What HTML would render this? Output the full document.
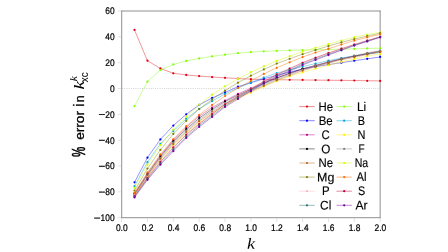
<!DOCTYPE html>
<html><head><meta charset="utf-8"><title>% error in kxc</title>
<style>html,body{margin:0;padding:0;background:#fff;}body{width:448px;height:252px;overflow:hidden;}svg{display:block;}</style>
</head><body>
<svg width="448" height="252" viewBox="0 0 448 252">
<rect width="448" height="252" fill="#fff"/>
<line x1="122.2" y1="88.51" x2="379.7" y2="88.51" stroke="#b0b0b0" stroke-width="0.6" stroke-dasharray="0.9 1.3"/>
<path d="M121.7 10.6V218.1M380.15 10.6V218.1M121.25 11H380.6M121.25 217.7H380.6" fill="none" stroke="#858585" stroke-width="0.9"/>
<g fill="#e2000f" stroke="none"><polyline points="134.53,29.99 147.46,60.73 160.38,68.49 173.31,73.27 186.24,74.95 199.17,76.11 212.10,77.01 225.02,77.79 237.95,78.56 250.88,79.21 263.81,79.60 276.74,79.73 289.66,79.85 302.59,79.98 315.52,80.11 328.45,80.24 341.38,80.37 354.30,80.50 367.23,80.76 380.16,80.89" fill="none" stroke="#e2000f" stroke-width="0.42"/>
<circle cx="134.53" cy="29.99" r="1.12"/><circle cx="147.46" cy="60.73" r="1.12"/><circle cx="160.38" cy="68.49" r="1.12"/><circle cx="173.31" cy="73.27" r="1.12"/><circle cx="186.24" cy="74.95" r="1.12"/><circle cx="199.17" cy="76.11" r="1.12"/><circle cx="212.10" cy="77.01" r="1.12"/><circle cx="225.02" cy="77.79" r="1.12"/><circle cx="237.95" cy="78.56" r="1.12"/><circle cx="250.88" cy="79.21" r="1.12"/><circle cx="263.81" cy="79.60" r="1.12"/><circle cx="276.74" cy="79.73" r="1.12"/><circle cx="289.66" cy="79.85" r="1.12"/><circle cx="302.59" cy="79.98" r="1.12"/><circle cx="315.52" cy="80.11" r="1.12"/><circle cx="328.45" cy="80.24" r="1.12"/><circle cx="341.38" cy="80.37" r="1.12"/><circle cx="354.30" cy="80.50" r="1.12"/><circle cx="367.23" cy="80.76" r="1.12"/><circle cx="380.16" cy="80.89" r="1.12"/>
</g>
<g fill="#7fff00" stroke="none"><polyline points="134.53,106.08 147.46,81.53 160.38,70.04 173.31,64.48 186.24,60.99 199.17,58.41 212.10,56.34 225.02,54.66 237.95,53.24 250.88,52.08 263.81,51.30 276.74,50.79 289.66,50.40 302.59,50.01 315.52,49.75 328.45,49.49 341.38,49.11 354.30,48.85 367.23,48.46 380.16,48.20" fill="none" stroke="#7fff00" stroke-width="0.42"/>
<circle cx="134.53" cy="106.08" r="1.12"/><circle cx="147.46" cy="81.53" r="1.12"/><circle cx="160.38" cy="70.04" r="1.12"/><circle cx="173.31" cy="64.48" r="1.12"/><circle cx="186.24" cy="60.99" r="1.12"/><circle cx="199.17" cy="58.41" r="1.12"/><circle cx="212.10" cy="56.34" r="1.12"/><circle cx="225.02" cy="54.66" r="1.12"/><circle cx="237.95" cy="53.24" r="1.12"/><circle cx="250.88" cy="52.08" r="1.12"/><circle cx="263.81" cy="51.30" r="1.12"/><circle cx="276.74" cy="50.79" r="1.12"/><circle cx="289.66" cy="50.40" r="1.12"/><circle cx="302.59" cy="50.01" r="1.12"/><circle cx="315.52" cy="49.75" r="1.12"/><circle cx="328.45" cy="49.49" r="1.12"/><circle cx="341.38" cy="49.11" r="1.12"/><circle cx="354.30" cy="48.85" r="1.12"/><circle cx="367.23" cy="48.46" r="1.12"/><circle cx="380.16" cy="48.20" r="1.12"/>
</g>
<g fill="#0000ff" stroke="none"><polyline points="134.53,182.30 147.46,157.63 160.38,139.41 173.31,125.59 186.24,114.35 199.17,104.92 212.10,97.94 225.02,92.39 237.95,86.70 250.88,82.70 263.81,78.82 276.74,75.33 289.66,72.10 302.59,69.13 315.52,66.68 328.45,64.61 341.38,62.67 354.30,60.73 367.23,58.80 380.16,56.99" fill="none" stroke="#0000ff" stroke-width="0.42"/>
<circle cx="134.53" cy="182.30" r="1.12"/><circle cx="147.46" cy="157.63" r="1.12"/><circle cx="160.38" cy="139.41" r="1.12"/><circle cx="173.31" cy="125.59" r="1.12"/><circle cx="186.24" cy="114.35" r="1.12"/><circle cx="199.17" cy="104.92" r="1.12"/><circle cx="212.10" cy="97.94" r="1.12"/><circle cx="225.02" cy="92.39" r="1.12"/><circle cx="237.95" cy="86.70" r="1.12"/><circle cx="250.88" cy="82.70" r="1.12"/><circle cx="263.81" cy="78.82" r="1.12"/><circle cx="276.74" cy="75.33" r="1.12"/><circle cx="289.66" cy="72.10" r="1.12"/><circle cx="302.59" cy="69.13" r="1.12"/><circle cx="315.52" cy="66.68" r="1.12"/><circle cx="328.45" cy="64.61" r="1.12"/><circle cx="341.38" cy="62.67" r="1.12"/><circle cx="354.30" cy="60.73" r="1.12"/><circle cx="367.23" cy="58.80" r="1.12"/><circle cx="380.16" cy="56.99" r="1.12"/>
</g>
<g fill="#00a5d8" stroke="none"><polyline points="134.53,186.18 147.46,162.15 160.38,143.80 173.31,131.01 186.24,118.74 199.17,108.92 212.10,101.17 225.02,93.94 237.95,87.99 250.88,82.57 263.81,77.53 276.74,73.14 289.66,69.78 302.59,66.55 315.52,63.58 328.45,60.73 341.38,58.02 354.30,55.95 367.23,54.15 380.16,52.60" fill="none" stroke="#00a5d8" stroke-width="0.42"/>
<circle cx="134.53" cy="186.18" r="1.12"/><circle cx="147.46" cy="162.15" r="1.12"/><circle cx="160.38" cy="143.80" r="1.12"/><circle cx="173.31" cy="131.01" r="1.12"/><circle cx="186.24" cy="118.74" r="1.12"/><circle cx="199.17" cy="108.92" r="1.12"/><circle cx="212.10" cy="101.17" r="1.12"/><circle cx="225.02" cy="93.94" r="1.12"/><circle cx="237.95" cy="87.99" r="1.12"/><circle cx="250.88" cy="82.57" r="1.12"/><circle cx="263.81" cy="77.53" r="1.12"/><circle cx="276.74" cy="73.14" r="1.12"/><circle cx="289.66" cy="69.78" r="1.12"/><circle cx="302.59" cy="66.55" r="1.12"/><circle cx="315.52" cy="63.58" r="1.12"/><circle cx="328.45" cy="60.73" r="1.12"/><circle cx="341.38" cy="58.02" r="1.12"/><circle cx="354.30" cy="55.95" r="1.12"/><circle cx="367.23" cy="54.15" r="1.12"/><circle cx="380.16" cy="52.60" r="1.12"/>
</g>
<g fill="#c0008a" stroke="none"><polyline points="134.53,193.41 147.46,173.52 160.38,155.43 173.31,140.06 186.24,127.27 199.17,116.29 212.10,107.50 225.02,100.52 237.95,93.94 250.88,88.12 263.81,82.70 276.74,77.79 289.66,73.27 302.59,69.13 315.52,65.38 328.45,61.90 341.38,58.80 354.30,56.21 367.23,53.89 380.16,51.69" fill="none" stroke="#c0008a" stroke-width="0.42"/>
<circle cx="134.53" cy="193.41" r="1.12"/><circle cx="147.46" cy="173.52" r="1.12"/><circle cx="160.38" cy="155.43" r="1.12"/><circle cx="173.31" cy="140.06" r="1.12"/><circle cx="186.24" cy="127.27" r="1.12"/><circle cx="199.17" cy="116.29" r="1.12"/><circle cx="212.10" cy="107.50" r="1.12"/><circle cx="225.02" cy="100.52" r="1.12"/><circle cx="237.95" cy="93.94" r="1.12"/><circle cx="250.88" cy="88.12" r="1.12"/><circle cx="263.81" cy="82.70" r="1.12"/><circle cx="276.74" cy="77.79" r="1.12"/><circle cx="289.66" cy="73.27" r="1.12"/><circle cx="302.59" cy="69.13" r="1.12"/><circle cx="315.52" cy="65.38" r="1.12"/><circle cx="328.45" cy="61.90" r="1.12"/><circle cx="341.38" cy="58.80" r="1.12"/><circle cx="354.30" cy="56.21" r="1.12"/><circle cx="367.23" cy="53.89" r="1.12"/><circle cx="380.16" cy="51.69" r="1.12"/>
</g>
<g fill="#ffee00" stroke="none"><polyline points="134.53,195.22 147.46,176.88 160.38,159.82 173.31,145.10 186.24,133.34 199.17,122.49 212.10,113.44 225.02,105.56 237.95,98.85 250.88,92.64 263.81,86.57 276.74,81.02 289.66,76.24 302.59,72.36 315.52,68.74 328.45,65.13 341.38,61.90 354.30,59.05 367.23,56.21 380.16,53.89" fill="none" stroke="#ffee00" stroke-width="0.42"/>
<circle cx="134.53" cy="195.22" r="1.12"/><circle cx="147.46" cy="176.88" r="1.12"/><circle cx="160.38" cy="159.82" r="1.12"/><circle cx="173.31" cy="145.10" r="1.12"/><circle cx="186.24" cy="133.34" r="1.12"/><circle cx="199.17" cy="122.49" r="1.12"/><circle cx="212.10" cy="113.44" r="1.12"/><circle cx="225.02" cy="105.56" r="1.12"/><circle cx="237.95" cy="98.85" r="1.12"/><circle cx="250.88" cy="92.64" r="1.12"/><circle cx="263.81" cy="86.57" r="1.12"/><circle cx="276.74" cy="81.02" r="1.12"/><circle cx="289.66" cy="76.24" r="1.12"/><circle cx="302.59" cy="72.36" r="1.12"/><circle cx="315.52" cy="68.74" r="1.12"/><circle cx="328.45" cy="65.13" r="1.12"/><circle cx="341.38" cy="61.90" r="1.12"/><circle cx="354.30" cy="59.05" r="1.12"/><circle cx="367.23" cy="56.21" r="1.12"/><circle cx="380.16" cy="53.89" r="1.12"/>
</g>
<g fill="#000000" stroke="none"><polyline points="134.53,193.93 147.46,174.55 160.38,156.59 173.31,141.22 186.24,129.20 199.17,118.22 212.10,109.18 225.02,101.56 237.95,95.10 250.88,89.29 263.81,83.60 276.74,78.17 289.66,73.27 302.59,68.74 315.52,65.90 328.45,62.41 341.38,59.05 354.30,56.21 367.23,53.50 380.16,51.17" fill="none" stroke="#000000" stroke-width="0.42"/>
<circle cx="134.53" cy="193.93" r="1.12"/><circle cx="147.46" cy="174.55" r="1.12"/><circle cx="160.38" cy="156.59" r="1.12"/><circle cx="173.31" cy="141.22" r="1.12"/><circle cx="186.24" cy="129.20" r="1.12"/><circle cx="199.17" cy="118.22" r="1.12"/><circle cx="212.10" cy="109.18" r="1.12"/><circle cx="225.02" cy="101.56" r="1.12"/><circle cx="237.95" cy="95.10" r="1.12"/><circle cx="250.88" cy="89.29" r="1.12"/><circle cx="263.81" cy="83.60" r="1.12"/><circle cx="276.74" cy="78.17" r="1.12"/><circle cx="289.66" cy="73.27" r="1.12"/><circle cx="302.59" cy="68.74" r="1.12"/><circle cx="315.52" cy="65.90" r="1.12"/><circle cx="328.45" cy="62.41" r="1.12"/><circle cx="341.38" cy="59.05" r="1.12"/><circle cx="354.30" cy="56.21" r="1.12"/><circle cx="367.23" cy="53.50" r="1.12"/><circle cx="380.16" cy="51.17" r="1.12"/>
</g>
<g fill="#808080" stroke="none"><polyline points="134.53,194.45 147.46,175.45 160.38,157.76 173.31,142.64 186.24,130.63 199.17,119.77 212.10,110.73 225.02,103.11 237.95,96.52 250.88,90.58 263.81,84.76 276.74,79.21 289.66,74.30 302.59,69.65 315.52,65.38 328.45,61.90 341.38,58.54 354.30,55.70 367.23,52.98 380.16,50.66" fill="none" stroke="#808080" stroke-width="0.42"/>
<circle cx="134.53" cy="194.45" r="1.12"/><circle cx="147.46" cy="175.45" r="1.12"/><circle cx="160.38" cy="157.76" r="1.12"/><circle cx="173.31" cy="142.64" r="1.12"/><circle cx="186.24" cy="130.63" r="1.12"/><circle cx="199.17" cy="119.77" r="1.12"/><circle cx="212.10" cy="110.73" r="1.12"/><circle cx="225.02" cy="103.11" r="1.12"/><circle cx="237.95" cy="96.52" r="1.12"/><circle cx="250.88" cy="90.58" r="1.12"/><circle cx="263.81" cy="84.76" r="1.12"/><circle cx="276.74" cy="79.21" r="1.12"/><circle cx="289.66" cy="74.30" r="1.12"/><circle cx="302.59" cy="69.65" r="1.12"/><circle cx="315.52" cy="65.38" r="1.12"/><circle cx="328.45" cy="61.90" r="1.12"/><circle cx="341.38" cy="58.54" r="1.12"/><circle cx="354.30" cy="55.70" r="1.12"/><circle cx="367.23" cy="52.98" r="1.12"/><circle cx="380.16" cy="50.66" r="1.12"/>
</g>
<g fill="#b8651a" stroke="none"><polyline points="134.53,194.96 147.46,176.36 160.38,158.92 173.31,144.06 186.24,132.05 199.17,121.20 212.10,112.15 225.02,104.40 237.95,97.68 250.88,91.61 263.81,85.80 276.74,80.37 289.66,75.46 302.59,70.68 315.52,66.68 328.45,63.19 341.38,59.83 354.30,57.25 367.23,54.40 380.16,51.82" fill="none" stroke="#b8651a" stroke-width="0.42"/>
<circle cx="134.53" cy="194.96" r="1.12"/><circle cx="147.46" cy="176.36" r="1.12"/><circle cx="160.38" cy="158.92" r="1.12"/><circle cx="173.31" cy="144.06" r="1.12"/><circle cx="186.24" cy="132.05" r="1.12"/><circle cx="199.17" cy="121.20" r="1.12"/><circle cx="212.10" cy="112.15" r="1.12"/><circle cx="225.02" cy="104.40" r="1.12"/><circle cx="237.95" cy="97.68" r="1.12"/><circle cx="250.88" cy="91.61" r="1.12"/><circle cx="263.81" cy="85.80" r="1.12"/><circle cx="276.74" cy="80.37" r="1.12"/><circle cx="289.66" cy="75.46" r="1.12"/><circle cx="302.59" cy="70.68" r="1.12"/><circle cx="315.52" cy="66.68" r="1.12"/><circle cx="328.45" cy="63.19" r="1.12"/><circle cx="341.38" cy="59.83" r="1.12"/><circle cx="354.30" cy="57.25" r="1.12"/><circle cx="367.23" cy="54.40" r="1.12"/><circle cx="380.16" cy="51.82" r="1.12"/>
</g>
<g fill="#ccff00" stroke="none"><polyline points="134.53,187.99 147.46,164.73 160.38,145.10 173.31,129.59 186.24,116.67 199.17,104.79 212.10,94.71 225.02,86.31 237.95,78.95 250.88,72.23 263.81,66.29 276.74,60.99 289.66,56.08 302.59,51.56 315.52,47.82 328.45,44.20 341.38,40.58 354.30,37.22 367.23,34.51 380.16,32.31" fill="none" stroke="#ccff00" stroke-width="0.42"/>
<circle cx="134.53" cy="187.99" r="1.12"/><circle cx="147.46" cy="164.73" r="1.12"/><circle cx="160.38" cy="145.10" r="1.12"/><circle cx="173.31" cy="129.59" r="1.12"/><circle cx="186.24" cy="116.67" r="1.12"/><circle cx="199.17" cy="104.79" r="1.12"/><circle cx="212.10" cy="94.71" r="1.12"/><circle cx="225.02" cy="86.31" r="1.12"/><circle cx="237.95" cy="78.95" r="1.12"/><circle cx="250.88" cy="72.23" r="1.12"/><circle cx="263.81" cy="66.29" r="1.12"/><circle cx="276.74" cy="60.99" r="1.12"/><circle cx="289.66" cy="56.08" r="1.12"/><circle cx="302.59" cy="51.56" r="1.12"/><circle cx="315.52" cy="47.82" r="1.12"/><circle cx="328.45" cy="44.20" r="1.12"/><circle cx="341.38" cy="40.58" r="1.12"/><circle cx="354.30" cy="37.22" r="1.12"/><circle cx="367.23" cy="34.51" r="1.12"/><circle cx="380.16" cy="32.31" r="1.12"/>
</g>
<g fill="#808000" stroke="none"><polyline points="134.53,190.57 147.46,168.61 160.38,149.88 173.31,133.98 186.24,120.81 199.17,109.05 212.10,99.49 225.02,90.58 237.95,82.70 250.88,75.72 263.81,69.39 276.74,63.58 289.66,58.80 302.59,54.15 315.52,50.01 328.45,46.01 341.38,42.39 354.30,39.03 367.23,36.06 380.16,33.22" fill="none" stroke="#808000" stroke-width="0.42"/>
<circle cx="134.53" cy="190.57" r="1.12"/><circle cx="147.46" cy="168.61" r="1.12"/><circle cx="160.38" cy="149.88" r="1.12"/><circle cx="173.31" cy="133.98" r="1.12"/><circle cx="186.24" cy="120.81" r="1.12"/><circle cx="199.17" cy="109.05" r="1.12"/><circle cx="212.10" cy="99.49" r="1.12"/><circle cx="225.02" cy="90.58" r="1.12"/><circle cx="237.95" cy="82.70" r="1.12"/><circle cx="250.88" cy="75.72" r="1.12"/><circle cx="263.81" cy="69.39" r="1.12"/><circle cx="276.74" cy="63.58" r="1.12"/><circle cx="289.66" cy="58.80" r="1.12"/><circle cx="302.59" cy="54.15" r="1.12"/><circle cx="315.52" cy="50.01" r="1.12"/><circle cx="328.45" cy="46.01" r="1.12"/><circle cx="341.38" cy="42.39" r="1.12"/><circle cx="354.30" cy="39.03" r="1.12"/><circle cx="367.23" cy="36.06" r="1.12"/><circle cx="380.16" cy="33.22" r="1.12"/>
</g>
<g fill="#ff6a00" stroke="none"><polyline points="134.53,192.90 147.46,172.48 160.38,154.40 173.31,139.15 186.24,126.23 199.17,114.99 212.10,104.92 225.02,96.00 237.95,87.99 250.88,81.02 263.81,73.91 276.74,67.84 289.66,62.28 302.59,57.12 315.52,52.60 328.45,48.72 341.38,44.59 354.30,40.58 367.23,37.35 380.16,34.38" fill="none" stroke="#ff6a00" stroke-width="0.42"/>
<circle cx="134.53" cy="192.90" r="1.12"/><circle cx="147.46" cy="172.48" r="1.12"/><circle cx="160.38" cy="154.40" r="1.12"/><circle cx="173.31" cy="139.15" r="1.12"/><circle cx="186.24" cy="126.23" r="1.12"/><circle cx="199.17" cy="114.99" r="1.12"/><circle cx="212.10" cy="104.92" r="1.12"/><circle cx="225.02" cy="96.00" r="1.12"/><circle cx="237.95" cy="87.99" r="1.12"/><circle cx="250.88" cy="81.02" r="1.12"/><circle cx="263.81" cy="73.91" r="1.12"/><circle cx="276.74" cy="67.84" r="1.12"/><circle cx="289.66" cy="62.28" r="1.12"/><circle cx="302.59" cy="57.12" r="1.12"/><circle cx="315.52" cy="52.60" r="1.12"/><circle cx="328.45" cy="48.72" r="1.12"/><circle cx="341.38" cy="44.59" r="1.12"/><circle cx="354.30" cy="40.58" r="1.12"/><circle cx="367.23" cy="37.35" r="1.12"/><circle cx="380.16" cy="34.38" r="1.12"/>
</g>
<g fill="#ffb6c1" stroke="none"><polyline points="134.53,195.48 147.46,177.39 160.38,160.86 173.31,146.65 186.24,134.11 199.17,123.39 212.10,113.44 225.02,103.75 237.95,95.87 250.88,88.51 263.81,81.15 276.74,74.30 289.66,68.36 302.59,62.54 315.52,57.50 328.45,52.85 341.38,48.46 354.30,44.46 367.23,40.45 380.16,36.70" fill="none" stroke="#ffb6c1" stroke-width="0.42"/>
<circle cx="134.53" cy="195.48" r="1.12"/><circle cx="147.46" cy="177.39" r="1.12"/><circle cx="160.38" cy="160.86" r="1.12"/><circle cx="173.31" cy="146.65" r="1.12"/><circle cx="186.24" cy="134.11" r="1.12"/><circle cx="199.17" cy="123.39" r="1.12"/><circle cx="212.10" cy="113.44" r="1.12"/><circle cx="225.02" cy="103.75" r="1.12"/><circle cx="237.95" cy="95.87" r="1.12"/><circle cx="250.88" cy="88.51" r="1.12"/><circle cx="263.81" cy="81.15" r="1.12"/><circle cx="276.74" cy="74.30" r="1.12"/><circle cx="289.66" cy="68.36" r="1.12"/><circle cx="302.59" cy="62.54" r="1.12"/><circle cx="315.52" cy="57.50" r="1.12"/><circle cx="328.45" cy="52.85" r="1.12"/><circle cx="341.38" cy="48.46" r="1.12"/><circle cx="354.30" cy="44.46" r="1.12"/><circle cx="367.23" cy="40.45" r="1.12"/><circle cx="380.16" cy="36.70" r="1.12"/>
</g>
<g fill="#c2003c" stroke="none"><polyline points="134.53,196.00 147.46,178.04 160.38,161.89 173.31,147.68 186.24,134.76 199.17,124.04 212.10,114.09 225.02,104.27 237.95,96.39 250.88,89.03 263.81,81.53 276.74,74.69 289.66,68.74 302.59,62.80 315.52,57.76 328.45,53.11 341.38,48.72 354.30,44.59 367.23,40.58 380.16,36.83" fill="none" stroke="#c2003c" stroke-width="0.42"/>
<circle cx="134.53" cy="196.00" r="1.12"/><circle cx="147.46" cy="178.04" r="1.12"/><circle cx="160.38" cy="161.89" r="1.12"/><circle cx="173.31" cy="147.68" r="1.12"/><circle cx="186.24" cy="134.76" r="1.12"/><circle cx="199.17" cy="124.04" r="1.12"/><circle cx="212.10" cy="114.09" r="1.12"/><circle cx="225.02" cy="104.27" r="1.12"/><circle cx="237.95" cy="96.39" r="1.12"/><circle cx="250.88" cy="89.03" r="1.12"/><circle cx="263.81" cy="81.53" r="1.12"/><circle cx="276.74" cy="74.69" r="1.12"/><circle cx="289.66" cy="68.74" r="1.12"/><circle cx="302.59" cy="62.80" r="1.12"/><circle cx="315.52" cy="57.76" r="1.12"/><circle cx="328.45" cy="53.11" r="1.12"/><circle cx="341.38" cy="48.72" r="1.12"/><circle cx="354.30" cy="44.59" r="1.12"/><circle cx="367.23" cy="40.58" r="1.12"/><circle cx="380.16" cy="36.83" r="1.12"/>
</g>
<g fill="#1f7070" stroke="none"><polyline points="134.53,196.77 147.46,178.94 160.38,163.44 173.31,149.62 186.24,136.70 199.17,125.59 212.10,115.64 225.02,105.82 237.95,97.55 250.88,90.06 263.81,82.57 276.74,75.85 289.66,70.17 302.59,64.09 315.52,59.05 328.45,54.27 341.38,49.75 354.30,45.23 367.23,41.10 380.16,37.09" fill="none" stroke="#1f7070" stroke-width="0.42"/>
<circle cx="134.53" cy="196.77" r="1.12"/><circle cx="147.46" cy="178.94" r="1.12"/><circle cx="160.38" cy="163.44" r="1.12"/><circle cx="173.31" cy="149.62" r="1.12"/><circle cx="186.24" cy="136.70" r="1.12"/><circle cx="199.17" cy="125.59" r="1.12"/><circle cx="212.10" cy="115.64" r="1.12"/><circle cx="225.02" cy="105.82" r="1.12"/><circle cx="237.95" cy="97.55" r="1.12"/><circle cx="250.88" cy="90.06" r="1.12"/><circle cx="263.81" cy="82.57" r="1.12"/><circle cx="276.74" cy="75.85" r="1.12"/><circle cx="289.66" cy="70.17" r="1.12"/><circle cx="302.59" cy="64.09" r="1.12"/><circle cx="315.52" cy="59.05" r="1.12"/><circle cx="328.45" cy="54.27" r="1.12"/><circle cx="341.38" cy="49.75" r="1.12"/><circle cx="354.30" cy="45.23" r="1.12"/><circle cx="367.23" cy="41.10" r="1.12"/><circle cx="380.16" cy="37.09" r="1.12"/>
</g>
<g fill="#7a00a0" stroke="none"><polyline points="134.53,197.42 147.46,179.85 160.38,164.73 173.31,151.17 186.24,137.99 199.17,126.88 212.10,116.93 225.02,106.98 237.95,98.97 250.88,90.96 263.81,83.34 276.74,76.75 289.66,71.20 302.59,65.00 315.52,59.96 328.45,55.05 341.38,50.27 354.30,45.62 367.23,41.48 380.16,37.35" fill="none" stroke="#7a00a0" stroke-width="0.42"/>
<circle cx="134.53" cy="197.42" r="1.12"/><circle cx="147.46" cy="179.85" r="1.12"/><circle cx="160.38" cy="164.73" r="1.12"/><circle cx="173.31" cy="151.17" r="1.12"/><circle cx="186.24" cy="137.99" r="1.12"/><circle cx="199.17" cy="126.88" r="1.12"/><circle cx="212.10" cy="116.93" r="1.12"/><circle cx="225.02" cy="106.98" r="1.12"/><circle cx="237.95" cy="98.97" r="1.12"/><circle cx="250.88" cy="90.96" r="1.12"/><circle cx="263.81" cy="83.34" r="1.12"/><circle cx="276.74" cy="76.75" r="1.12"/><circle cx="289.66" cy="71.20" r="1.12"/><circle cx="302.59" cy="65.00" r="1.12"/><circle cx="315.52" cy="59.96" r="1.12"/><circle cx="328.45" cy="55.05" r="1.12"/><circle cx="341.38" cy="50.27" r="1.12"/><circle cx="354.30" cy="45.62" r="1.12"/><circle cx="367.23" cy="41.48" r="1.12"/><circle cx="380.16" cy="37.35" r="1.12"/>
</g>
<g stroke="#dadada" stroke-width="0.8"><line x1="121.60" y1="218.1" x2="121.60" y2="222" /><line x1="147.46" y1="218.1" x2="147.46" y2="222" /><line x1="173.31" y1="218.1" x2="173.31" y2="222" /><line x1="199.17" y1="218.1" x2="199.17" y2="222" /><line x1="225.02" y1="218.1" x2="225.02" y2="222" /><line x1="250.88" y1="218.1" x2="250.88" y2="222" /><line x1="276.74" y1="218.1" x2="276.74" y2="222" /><line x1="302.59" y1="218.1" x2="302.59" y2="222" /><line x1="328.45" y1="218.1" x2="328.45" y2="222" /><line x1="354.30" y1="218.1" x2="354.30" y2="222" /><line x1="380.16" y1="218.1" x2="380.16" y2="222" /><line x1="117.8" y1="11.00" x2="121.2" y2="11.00" /><line x1="117.8" y1="36.83" x2="121.2" y2="36.83" /><line x1="117.8" y1="62.67" x2="121.2" y2="62.67" /><line x1="117.8" y1="88.51" x2="121.2" y2="88.51" /><line x1="117.8" y1="114.35" x2="121.2" y2="114.35" /><line x1="117.8" y1="140.19" x2="121.2" y2="140.19" /><line x1="117.8" y1="166.02" x2="121.2" y2="166.02" /><line x1="117.8" y1="191.86" x2="121.2" y2="191.86" /><line x1="117.8" y1="217.70" x2="121.2" y2="217.70" /></g>
<g font-family="'Liberation Sans', sans-serif" font-size="9.6" fill="#000" stroke="#000" stroke-width="0.22">
<text transform="rotate(0.03 121.80 231.35)" x="121.80" y="231.35" text-anchor="middle" textLength="11.7" lengthAdjust="spacingAndGlyphs">0.0</text>
<text transform="rotate(0.03 147.66 231.35)" x="147.66" y="231.35" text-anchor="middle" textLength="11.7" lengthAdjust="spacingAndGlyphs">0.2</text>
<text transform="rotate(0.03 173.51 231.35)" x="173.51" y="231.35" text-anchor="middle" textLength="11.7" lengthAdjust="spacingAndGlyphs">0.4</text>
<text transform="rotate(0.03 199.37 231.35)" x="199.37" y="231.35" text-anchor="middle" textLength="11.7" lengthAdjust="spacingAndGlyphs">0.6</text>
<text transform="rotate(0.03 225.22 231.35)" x="225.22" y="231.35" text-anchor="middle" textLength="11.7" lengthAdjust="spacingAndGlyphs">0.8</text>
<text transform="rotate(0.03 251.08 231.35)" x="251.08" y="231.35" text-anchor="middle" textLength="11.7" lengthAdjust="spacingAndGlyphs">1.0</text>
<text transform="rotate(0.03 276.94 231.35)" x="276.94" y="231.35" text-anchor="middle" textLength="11.7" lengthAdjust="spacingAndGlyphs">1.2</text>
<text transform="rotate(0.03 302.79 231.35)" x="302.79" y="231.35" text-anchor="middle" textLength="11.7" lengthAdjust="spacingAndGlyphs">1.4</text>
<text transform="rotate(0.03 328.65 231.35)" x="328.65" y="231.35" text-anchor="middle" textLength="11.7" lengthAdjust="spacingAndGlyphs">1.6</text>
<text transform="rotate(0.03 354.50 231.35)" x="354.50" y="231.35" text-anchor="middle" textLength="11.7" lengthAdjust="spacingAndGlyphs">1.8</text>
<text transform="rotate(0.03 380.36 231.35)" x="380.36" y="231.35" text-anchor="middle" textLength="11.7" lengthAdjust="spacingAndGlyphs">2.0</text>
<text transform="rotate(0.03 114.6 14.45)" x="114.6" y="14.45" text-anchor="end" textLength="9.3" lengthAdjust="spacingAndGlyphs">60</text>
<text transform="rotate(0.03 114.6 40.28)" x="114.6" y="40.28" text-anchor="end" textLength="9.3" lengthAdjust="spacingAndGlyphs">40</text>
<text transform="rotate(0.03 114.6 66.12)" x="114.6" y="66.12" text-anchor="end" textLength="9.3" lengthAdjust="spacingAndGlyphs">20</text>
<text transform="rotate(0.03 114.6 91.96)" x="114.6" y="91.96" text-anchor="end" textLength="4.7" lengthAdjust="spacingAndGlyphs">0</text>
<text transform="rotate(0.03 114.6 117.80)" x="114.6" y="117.80" text-anchor="end" textLength="9.3" lengthAdjust="spacingAndGlyphs">20</text>
<text transform="rotate(0.03 105.20 117.80)" x="105.20" y="117.80" text-anchor="end" textLength="6.8" lengthAdjust="spacingAndGlyphs">−</text>
<text transform="rotate(0.03 114.6 143.64)" x="114.6" y="143.64" text-anchor="end" textLength="9.3" lengthAdjust="spacingAndGlyphs">40</text>
<text transform="rotate(0.03 105.20 143.64)" x="105.20" y="143.64" text-anchor="end" textLength="6.8" lengthAdjust="spacingAndGlyphs">−</text>
<text transform="rotate(0.03 114.6 169.47)" x="114.6" y="169.47" text-anchor="end" textLength="9.3" lengthAdjust="spacingAndGlyphs">60</text>
<text transform="rotate(0.03 105.20 169.47)" x="105.20" y="169.47" text-anchor="end" textLength="6.8" lengthAdjust="spacingAndGlyphs">−</text>
<text transform="rotate(0.03 114.6 195.31)" x="114.6" y="195.31" text-anchor="end" textLength="9.3" lengthAdjust="spacingAndGlyphs">80</text>
<text transform="rotate(0.03 105.20 195.31)" x="105.20" y="195.31" text-anchor="end" textLength="6.8" lengthAdjust="spacingAndGlyphs">−</text>
<text transform="rotate(0.03 114.6 221.15)" x="114.6" y="221.15" text-anchor="end" textLength="14.0" lengthAdjust="spacingAndGlyphs">100</text>
<text transform="rotate(0.03 100.55 221.15)" x="100.55" y="221.15" text-anchor="end" textLength="6.8" lengthAdjust="spacingAndGlyphs">−</text>
</g>
<text transform="rotate(0.03 251 248.7)" x="250.9" y="248.7" textLength="8.0" lengthAdjust="spacingAndGlyphs" text-anchor="middle" font-family="'Liberation Serif', serif" font-style="italic" font-size="15.6" fill="#000">k</text>
<g transform="translate(83.6,0) rotate(-90)" fill="#000" font-family="'Liberation Sans', sans-serif" font-size="14.2">
<g stroke="#000" stroke-width="0.3">
<text x="-157.0" y="1.0" textLength="10.3" lengthAdjust="spacingAndGlyphs" font-size="17.5" stroke-width="0.6">%</text>
<text x="-139.8" y="0" textLength="28.8" lengthAdjust="spacingAndGlyphs" font-size="12.8">error</text>
<text x="-106.4" y="0" textLength="2.7" lengthAdjust="spacingAndGlyphs" >i</text>
<text x="-102.2" y="0" textLength="6.8" lengthAdjust="spacingAndGlyphs" font-size="12.8">n</text>
</g>
<text x="-89.6" y="0" textLength="8.6" lengthAdjust="spacingAndGlyphs" font-family="'Liberation Serif', serif" font-style="italic" font-size="15">k</text>
<text x="-81.2" y="-6.4" textLength="5.2" lengthAdjust="spacingAndGlyphs" font-family="'Liberation Serif', serif" font-style="italic" font-size="10.5">k</text>
<text x="-82.3" y="4" textLength="9.9" lengthAdjust="spacingAndGlyphs" font-size="10.5">xc</text>
</g>
<g font-family="'Liberation Sans', sans-serif" font-size="12.5" fill="#000" text-anchor="middle">
<line x1="299.3" y1="106.60" x2="314.7" y2="106.60" stroke="#e2000f" stroke-width="0.48"/><circle cx="307.0" cy="106.60" r="1.12" fill="#e2000f"/>
<text transform="rotate(0.03 325.7 110.90)" x="325.7" y="110.90" textLength="14.5" lengthAdjust="spacingAndGlyphs" stroke="#000" stroke-width="0.15">He</text>
<line x1="336.5" y1="106.60" x2="351.9" y2="106.60" stroke="#7fff00" stroke-width="0.48"/><circle cx="344.2" cy="106.60" r="1.12" fill="#7fff00"/>
<text transform="rotate(0.03 361.5 110.90)" x="361.5" y="110.90" textLength="9.2" lengthAdjust="spacingAndGlyphs" stroke="#000" stroke-width="0.15">Li</text>
<line x1="299.3" y1="120.70" x2="314.7" y2="120.70" stroke="#0000ff" stroke-width="0.48"/><circle cx="307.0" cy="120.70" r="1.12" fill="#0000ff"/>
<text transform="rotate(0.03 325.7 125.00)" x="325.7" y="125.00" textLength="14.0" lengthAdjust="spacingAndGlyphs" stroke="#000" stroke-width="0.15">Be</text>
<line x1="336.5" y1="120.70" x2="351.9" y2="120.70" stroke="#00a5d8" stroke-width="0.48"/><circle cx="344.2" cy="120.70" r="1.12" fill="#00a5d8"/>
<text transform="rotate(0.03 361.5 125.00)" x="361.5" y="125.00" textLength="7.3" lengthAdjust="spacingAndGlyphs" stroke="#000" stroke-width="0.15">B</text>
<line x1="299.3" y1="134.80" x2="314.7" y2="134.80" stroke="#c0008a" stroke-width="0.48"/><circle cx="307.0" cy="134.80" r="1.12" fill="#c0008a"/>
<text transform="rotate(0.03 325.7 139.10)" x="325.7" y="139.10" textLength="8.2" lengthAdjust="spacingAndGlyphs" stroke="#000" stroke-width="0.15">C</text>
<line x1="336.5" y1="134.80" x2="351.9" y2="134.80" stroke="#ffee00" stroke-width="0.48"/><circle cx="344.2" cy="134.80" r="1.12" fill="#ffee00"/>
<text transform="rotate(0.03 361.5 139.10)" x="361.5" y="139.10" textLength="7.9" lengthAdjust="spacingAndGlyphs" stroke="#000" stroke-width="0.15">N</text>
<line x1="299.3" y1="148.90" x2="314.7" y2="148.90" stroke="#000000" stroke-width="0.48"/><circle cx="307.0" cy="148.90" r="1.12" fill="#000000"/>
<text transform="rotate(0.03 325.7 153.20)" x="325.7" y="153.20" textLength="9.1" lengthAdjust="spacingAndGlyphs" stroke="#000" stroke-width="0.15">O</text>
<line x1="336.5" y1="148.90" x2="351.9" y2="148.90" stroke="#808080" stroke-width="0.48"/><circle cx="344.2" cy="148.90" r="1.12" fill="#808080"/>
<text transform="rotate(0.03 361.5 153.20)" x="361.5" y="153.20" textLength="6.1" lengthAdjust="spacingAndGlyphs" stroke="#000" stroke-width="0.15">F</text>
<line x1="299.3" y1="163.00" x2="314.7" y2="163.00" stroke="#b8651a" stroke-width="0.48"/><circle cx="307.0" cy="163.00" r="1.12" fill="#b8651a"/>
<text transform="rotate(0.03 325.7 167.30)" x="325.7" y="167.30" textLength="14.5" lengthAdjust="spacingAndGlyphs" stroke="#000" stroke-width="0.15">Ne</text>
<line x1="336.5" y1="163.00" x2="351.9" y2="163.00" stroke="#ccff00" stroke-width="0.48"/><circle cx="344.2" cy="163.00" r="1.12" fill="#ccff00"/>
<text transform="rotate(0.03 361.5 167.30)" x="361.5" y="167.30" textLength="13.5" lengthAdjust="spacingAndGlyphs" stroke="#000" stroke-width="0.15">Na</text>
<line x1="299.3" y1="177.10" x2="314.7" y2="177.10" stroke="#808000" stroke-width="0.48"/><circle cx="307.0" cy="177.10" r="1.12" fill="#808000"/>
<text transform="rotate(0.03 325.7 181.40)" x="325.7" y="181.40" textLength="17.3" lengthAdjust="spacingAndGlyphs" stroke="#000" stroke-width="0.15">Mg</text>
<line x1="336.5" y1="177.10" x2="351.9" y2="177.10" stroke="#ff6a00" stroke-width="0.48"/><circle cx="344.2" cy="177.10" r="1.12" fill="#ff6a00"/>
<text transform="rotate(0.03 361.5 181.40)" x="361.5" y="181.40" textLength="10.0" lengthAdjust="spacingAndGlyphs" stroke="#000" stroke-width="0.15">Al</text>
<line x1="299.3" y1="191.20" x2="314.7" y2="191.20" stroke="#ffb6c1" stroke-width="0.48"/><circle cx="307.0" cy="191.20" r="1.12" fill="#ffb6c1"/>
<text transform="rotate(0.03 325.7 195.50)" x="325.7" y="195.50" textLength="7.6" lengthAdjust="spacingAndGlyphs" stroke="#000" stroke-width="0.15">P</text>
<line x1="336.5" y1="191.20" x2="351.9" y2="191.20" stroke="#c2003c" stroke-width="0.48"/><circle cx="344.2" cy="191.20" r="1.12" fill="#c2003c"/>
<text transform="rotate(0.03 361.5 195.50)" x="361.5" y="195.50" textLength="7.2" lengthAdjust="spacingAndGlyphs" stroke="#000" stroke-width="0.15">S</text>
<line x1="299.3" y1="205.30" x2="314.7" y2="205.30" stroke="#1f7070" stroke-width="0.48"/><circle cx="307.0" cy="205.30" r="1.12" fill="#1f7070"/>
<text transform="rotate(0.03 325.7 209.60)" x="325.7" y="209.60" textLength="11.2" lengthAdjust="spacingAndGlyphs" stroke="#000" stroke-width="0.15">Cl</text>
<line x1="336.5" y1="205.30" x2="351.9" y2="205.30" stroke="#7a00a0" stroke-width="0.48"/><circle cx="344.2" cy="205.30" r="1.12" fill="#7a00a0"/>
<text transform="rotate(0.03 361.5 209.60)" x="361.5" y="209.60" textLength="12.1" lengthAdjust="spacingAndGlyphs" stroke="#000" stroke-width="0.15">Ar</text>
</g>
</svg>
</body></html>
